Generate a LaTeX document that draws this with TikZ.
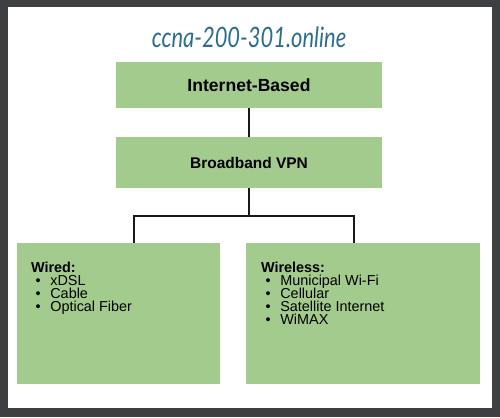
\documentclass[tikz,border=0pt]{standalone}
\usepackage{fontspec}
\setmainfont{Liberation Sans}
\newfontfamily\sitefont{Lato}
\usetikzlibrary{positioning}
\usetikzlibrary{calc}
\definecolor{boxgreen}{HTML}{A2CB8D}
\definecolor{sitecolor}{HTML}{2B6E8C}
\definecolor{framegray}{HTML}{3E3F41}
\newcommand{\bitem}[1]{\\\makebox[11pt][l]{\hspace{2.6pt}\textbullet}#1}
\newcommand{\tightlines}{\lineskiplimit=-10pt\relax}

\begin{document}
\begin{tikzpicture}[x=0.02cm, y=-0.02cm,
	greenbox/.style={fill=boxgreen, draw=none, inner sep=0pt},
	headtext/.style={font=\bfseries\fontsize{10}{12}\selectfont},
	listtext/.style={anchor=north west, align=left, inner sep=0pt, font=\fontsize{8.2}{7.4}\selectfont\tightlines},
	link/.style={line width=1.1pt, black!90}]
	
	% frame
	\fill [framegray] (0,0) rectangle (500,417);
	\fill [white] (8,7) rectangle (492,408);
	
	\node [text=sitecolor, font=\sitefont\itshape\fontsize{16}{18}\selectfont] (site) at (249,37) {\scalebox{0.78}[1]{ccna-200-301.online}};
	
	\node [greenbox, minimum width=5.32cm, minimum height=0.92cm, headtext] (inet) at (249,85) {Internet-Based};
	\node [greenbox, minimum width=5.32cm, minimum height=1.02cm, headtext, font=\bfseries\fontsize{8.8}{10}\selectfont] (vpn) at (249,162.5) {Broadband VPN};
	\node [greenbox, minimum width=4.06cm, minimum height=2.82cm] (wired) at (118.5,313.5) {};
	\node [greenbox, minimum width=4.68cm, minimum height=2.82cm] (wireless) at (363,313.5) {};
	
	\node [listtext] (wiredlist) at ($(wired.north west)+(14,19.5)$) {\textbf{Wired:}\bitem{xDSL}\bitem{Cable}\bitem{Optical Fiber}};
	\node [listtext] (wirelesslist) at ($(wireless.north west)+(15,19.5)$) {\textbf{Wireless:}\bitem{Municipal Wi-Fi}\bitem{Cellular}\bitem{Satellite Internet}\bitem{WiMAX}};
	
	\coordinate (fork) at (249,216);
	\draw [link] (inet.south) -- (vpn.north);
	\draw [link] (vpn.south) -- (fork);
	\draw [link] ([xshift=8.8pt]wired.north) |- (fork) -| ([xshift=-5.1pt]wireless.north);
	
\end{tikzpicture}
\end{document}
